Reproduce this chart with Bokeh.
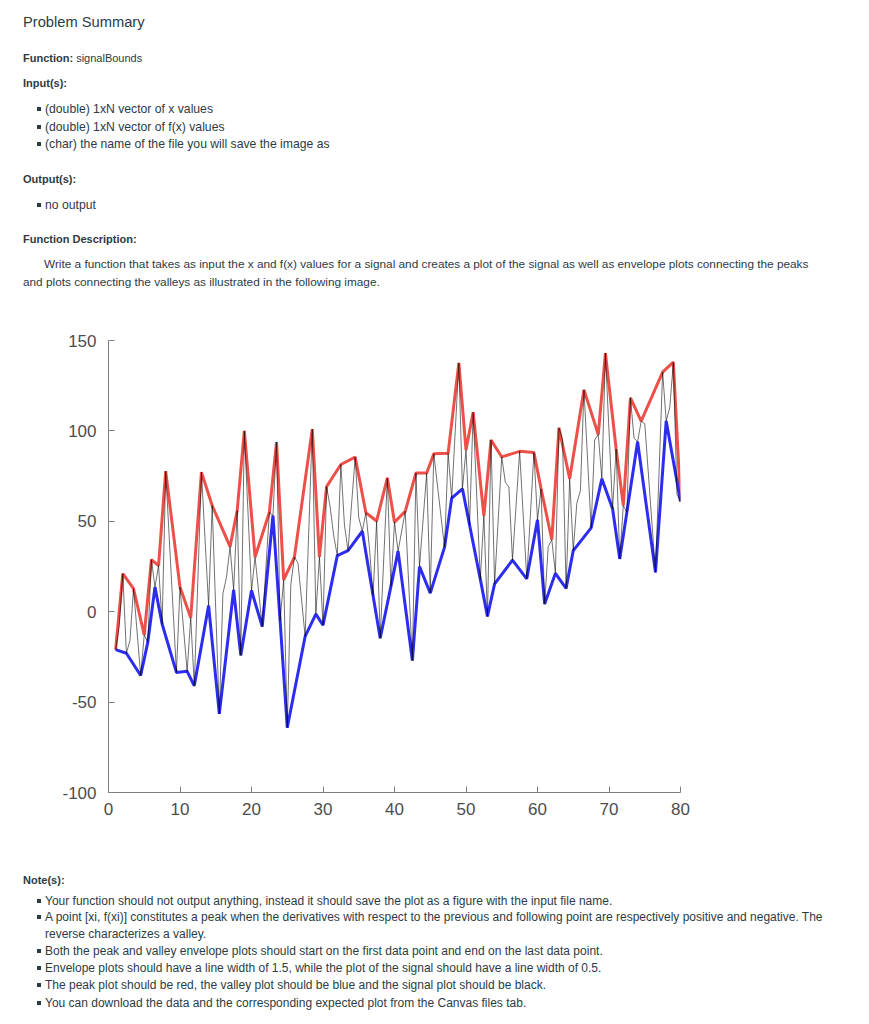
from bokeh.plotting import figure
from bokeh.models import Div, SingleIntervalTicker, Range1d, PrintfTickFormatter
from bokeh.layouts import column
from bokeh.embed import file_html
from bokeh.resources import INLINE

# ---- signal data ----
sig_x = [1, 1.5, 2, 2.5, 3, 3.5, 4.5, 5, 5.5, 6, 6.5, 7, 7.5, 8, 9.5, 10, 11, 11.5, 12, 13,
         14, 14.5, 15.5, 16, 16.5, 17, 17.5, 18, 18.5, 19, 20, 20.5, 21.5, 22.5, 23, 23.5, 24,
         24.5, 25, 25.5, 26, 26.5, 27.5, 28.5, 29, 29.5, 30, 30.5, 31, 31.5, 32, 32.5, 33, 33.5,
         34.5, 35, 35.5, 36, 36.5, 37, 37.5, 38, 39, 39.5, 40, 40.5, 41.5, 42.5, 43, 43.5, 44.5,
         45, 45.5, 47, 47.5, 48, 49, 49.5, 50, 50.5, 51, 52, 52.5, 53, 53.5, 54, 55, 55.5, 56,
         56.5, 57.5, 58.5, 59.5, 60, 60.5, 61, 61.5, 62, 62.5, 63, 63.5, 64, 64.5, 65, 65.5, 66,
         66.5, 67.5, 68, 68.5, 69, 69.5, 70.5, 71, 71.5, 72, 72.5, 73, 73.5, 74, 74.5, 75, 76.5,
         77.5, 78, 78.5, 79, 79.5, 80]
sig_y = [-21, -8, 21, -23, -16, 12.7, -35.3, -12.8, -16.8, 28.8, 13.6, 25.5, -6.8, 77.7, -33.6,
         13.6, -33, -3.3, -41, 77.2, 3.4, 58.7, -56.5, 10, 19, 36, 12, 56, -24.2, 100, 11.7, 30.2,
         -8.2, 55, 53.2, 93.8, -5, 17.6, -64.2, 15, 30.2, 27, -13.7, 101, -1.3, 30.3, -7.5, 69.2,
         58, 42, 31, 81.4, 48, 33.8, 85.5, 52, 44.5, 54.7, 35, 9, 50.2, -14.7, 74, 14, 49.5, 33.5,
         55.5, -27, 76.7, 25, 76.7, 10.3, 87.3, 35.7, 87.7, 62.8, 137.6, 68, 89.5, 48, 110.3, 18,
         53, -2.6, 95, 15.4, 85.6, 71.6, 68.9, 28.5, 88.7, 18.2, 88, 50.8, 68, 4.2, 36, 39.8, 21.2,
         101.7, 95, 12.9, 73.5, 33.8, 60, 67, 122.7, 46.4, 95, 98, 73.5, 143, 56.9, 90, 29.2, 58.7,
         55, 118.3, 96, 94, 105.4, 104, 21.8, 132.5, 105.5, 113, 138, 65, 61]

x_ticks_interval = 10
y_ticks_interval = 50
x_limits = (0, 80)
y_limits = (-100, 150)

# ---- peaks / valleys (as defined in the problem) ----
n = len(sig_y)
peak_idx = [0]
valley_idx = [0]
for i in range(1, n - 1):
    d1 = sig_y[i] - sig_y[i - 1]
    d2 = sig_y[i + 1] - sig_y[i]
    if d1 > 0 and d2 < 0:
        peak_idx.append(i)
    elif d1 < 0 and d2 > 0:
        valley_idx.append(i)
peak_idx.append(n - 1)
valley_idx.append(n - 1)
peak_x = [sig_x[i] for i in peak_idx]
peak_y = [sig_y[i] for i in peak_idx]
valley_x = [sig_x[i] for i in valley_idx]
valley_y = [sig_y[i] for i in valley_idx]

FONT = "Liberation Sans"
TXT = "#2d3b45"

def el(left, cy, html, size=12, bold=False, lh=16, extra=""):
    top = cy - lh / 2
    w = "bold" if bold else "normal"
    return (f'<div style="position:absolute;left:{left}px;top:{top}px;font-size:{size}px;'
            f'line-height:{lh}px;font-weight:{w};white-space:nowrap;{extra}">{html}</div>')

def bullet(cy, text, size=12):
    sq = (f'<div style="position:absolute;left:37px;top:{cy - 2}px;width:4px;height:4px;'
          f'background:{TXT};"></div>')
    return sq + el(45, cy, text, size)

# top text block (page coordinates)
top_items = [
    el(23, 22, "Problem Summary", size=14.7, lh=20),
    el(23, 58, "<b>Function:</b> signalBounds", 11),
    el(23, 83, "Input(s):", 11, bold=True),
    bullet(109, "(double) 1xN vector of x values", 12.2),
    bullet(127, "(double) 1xN vector of f(x) values", 12.2),
    bullet(144, "(char) the name of the file you will save the image as", 12.2),
    el(23, 179, "Output(s):", 11, bold=True),
    bullet(205, "no output", 12.2),
    el(23, 239, "Function Description:", 11, bold=True),
    el(44, 264, "Write a function that takes as input the x and f(x) values for a signal and creates a plot of the signal as well as envelope plots connecting the peaks", 11.8),
    el(23, 282, "and plots connecting the valleys as illustrated in the following image.", 11.8),
]
top_div = Div(text=(f'<div style="position:relative;width:861px;height:330px;font-family:\'{FONT}\';color:{TXT};">'
                    + "".join(top_items) + "</div>"), width=861, height=330, margin=0)

b0 = 830
bot_items = [
    el(23, 880 - b0, "Note(s):", 11, bold=True),
    bullet(901 - b0, "Your function should not output anything, instead it should save the plot as a figure with the input file name."),
    bullet(917 - b0, "A point [xi, f(xi)] constitutes a peak when the derivatives with respect to the previous and following point are respectively positive and negative. The"),
    el(45, 934 - b0, "reverse characterizes a valley.", 12),
    bullet(951 - b0, "Both the peak and valley envelope plots should start on the first data point and end on the last data point."),
    bullet(968 - b0, "Envelope plots should have a line width of 1.5, while the plot of the signal should have a line width of 0.5."),
    bullet(985 - b0, "The peak plot should be red, the valley plot should be blue and the signal plot should be black."),
    bullet(1003 - b0, "You can download the data and the corresponding expected plot from the Canvas files tab."),
]
bot_div = Div(text=(f'<div style="position:relative;width:861px;height:186px;font-family:\'{FONT}\';color:{TXT};">'
                    + "".join(bot_items) + "</div>"), width=861, height=186, margin=0)

p = figure(frame_width=572, frame_height=452, output_backend="svg", toolbar_location=None,
           x_range=Range1d(*x_limits), y_range=Range1d(*y_limits),
           min_border_left=108, min_border_right=181, min_border_top=10, min_border_bottom=38)
p.outline_line_color = None
p.xgrid.visible = False
p.ygrid.visible = False
p.background_fill_color = "white"
p.border_fill_color = "white"

p.line(peak_x, peak_y, line_color="#ec5048", line_width=3)
p.line(valley_x, valley_y, line_color="#2d2df2", line_width=3)
p.line(sig_x, sig_y, line_color="black", line_width=0.7, line_alpha=0.8)

for ax, iv in ((p.xaxis[0], x_ticks_interval), (p.yaxis[0], y_ticks_interval)):
    ax.ticker = SingleIntervalTicker(interval=iv)
    ax.formatter = PrintfTickFormatter(format="%d")
    ax.minor_tick_line_color = None
    ax.major_tick_in = 6
    ax.major_tick_out = 0
    ax.axis_line_color = "#7f7f7f"
    ax.major_tick_line_color = "#7f7f7f"
    ax.major_label_text_font = FONT
    ax.major_label_text_font_size = "17px"
    ax.major_label_text_color = "#4d4d4d"
p.yaxis[0].major_label_standoff = 8
p.xaxis[0].major_label_standoff = 6

layout = column(top_div, p, bot_div, spacing=0)
open("out.html", "w").write(file_html(layout, INLINE))
